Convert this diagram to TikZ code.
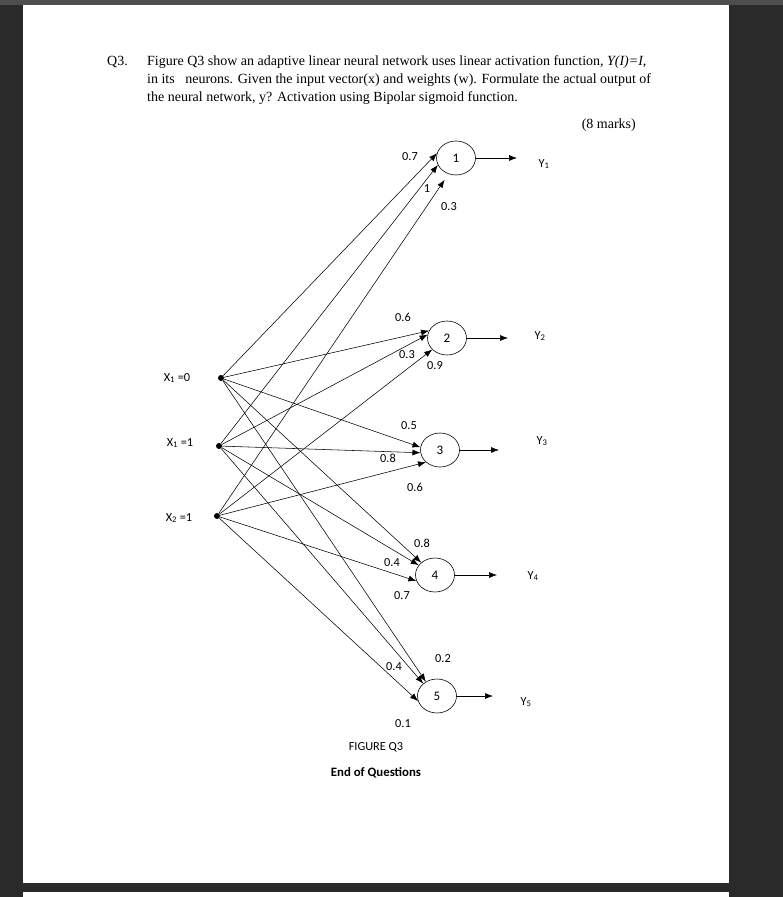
\documentclass[tikz,border=0pt]{standalone}
\usepackage{fontspec}
\setmainfont{Liberation Serif}
\newfontfamily\calibri{Carlito}
\usetikzlibrary{positioning,shapes.geometric,arrows.meta}
\definecolor{frame}{HTML}{2A2A2A}
\definecolor{topbar}{HTML}{4E4E4E}

\begin{document}
\begin{tikzpicture}[x=1pt, y=-1pt,
    neuron/.style = {draw, ellipse, minimum width=39pt, minimum height=34pt, inner sep=0pt, line width=0.6pt, font=\calibri\fontsize{13}{15}\selectfont},
    weight/.style = {inner sep=0pt, font=\calibri\fontsize{12.3}{14}\selectfont},
    wire/.style = {line width=0.55pt, -{Latex[length=8pt,width=6pt]}},
    dot/.style = {circle, fill, inner sep=0pt, minimum size=6pt},
    question/.style = {anchor=west, inner sep=0pt, font=\fontsize{14}{17}\selectfont}]
    \useasboundingbox (0,0) rectangle (783,897);
    % PAGE
    \fill[frame] (0,0) rectangle (783,897);
    \fill[topbar] (0,0) rectangle (783,5);
    \fill[white] (23,5) rectangle (729,883);
    \fill[white] (23,892) rectangle (729,897);
    % QUESTION
    \node[question] (qno) at (107,62) {Q3.};
    \node[question] (line1) at (147,62) {Figure Q3 show an adaptive linear neural network uses linear activation function, \textit{Y(I)=I},};
    \node[question] (line2) at (147,80) {in its\ \ \ neurons. Given the input vector(x) and weights (w). Formulate the actual output of};
    \node[question] (line3) at (147,98) {the neural network, y? Activation using Bipolar sigmoid function.};
    \node[question, anchor=east] (marks) at (636,125) {(8 marks)};
    % INPUTS
    \node[dot] (xa) at (221,378) {};
    \node[dot] (xb) at (219,446) {};
    \node[dot] (xc) at (217,516) {};
    \node[weight] (xalabel) at (177,378) {X\textsubscript{1} =0};
    \node[weight] (xblabel) at (180,443) {X\textsubscript{1} =1};
    \node[weight] (xclabel) at (179,518) {X\textsubscript{2} =1};
    % NEURONS
    \node[neuron] (n1) at (456,158) {1};
    \node[neuron] (n2) at (447,338) {2};
    \node[neuron] (n3) at (440,450) {3};
    \node[neuron] (n4) at (435,575) {4};
    \node[neuron] (n5) at (437,696) {5};
    % CONNECTIONS
    \draw[wire] (xa) -- (n1.166);
    \draw[wire] (xb) -- (n1.201);
    \draw[wire, shorten >=7pt] (xc) -- (n1.245);
    \draw[wire] (xa) -- (n2.158);
    \draw[wire] (xb) -- (n2.170);
    \draw[wire] (xc) -- (n2.218);
    \draw[wire] (xa) -- (n3.172);
    \draw[wire] (xb) -- (n3.188);
    \draw[wire] (xc) -- (n3.221);
    \draw[wire] (xa) -- (n4.138);
    \draw[wire] (xb) -- (n4.149);
    \draw[wire] (xc) -- (n4.198);
    \draw[wire] (xa) -- (n5.128);
    \draw[wire] (xb) -- (n5.138);
    \draw[wire] (xc) -- (n5.195);
    % WEIGHTS
    \node[weight] (w11) at (410,157) {0.7};
    \node[weight] (w21) at (427,189) {1};
    \node[weight] (w31) at (449,207) {0.3};
    \node[weight] (w12) at (403,317) {0.6};
    \node[weight] (w22) at (407,355) {0.3};
    \node[weight] (w32) at (435,366) {0.9};
    \node[weight] (w13) at (409,426) {0.5};
    \node[weight] (w23) at (388,458) {0.8};
    \node[weight] (w33) at (415,487) {0.6};
    \node[weight] (w14) at (422,543) {0.8};
    \node[weight] (w24) at (392,563) {0.4};
    \node[weight] (w34) at (402,596) {0.7};
    \node[weight] (w15) at (394,667) {0.4};
    \node[weight] (w25) at (443,659) {0.2};
    \node[weight] (w35) at (403,724) {0.1};
    % OUTPUTS
    \coordinate (o1) at (517,158);
    \coordinate (o2) at (508,338);
    \coordinate (o3) at (499,450);
    \coordinate (o4) at (497,575);
    \coordinate (o5) at (493,696);
    \foreach \i in {1,...,5}
        \draw[wire, line width=0.6pt] (n\i.east) -- (o\i);
    \node[weight] (y1) at (544,164) {Y\textsubscript{1}};
    \node[weight] (y2) at (540,336) {Y\textsubscript{2}};
    \node[weight] (y3) at (542,441) {Y\textsubscript{3}};
    \node[weight] (y4) at (533,576) {Y\textsubscript{4}};
    \node[weight] (y5) at (526,702) {Y\textsubscript{5}};
    % CAPTION
    \node[weight] (caption) at (376,747) {FIGURE Q3};
    \node[weight, font=\calibri\bfseries\fontsize{12.8}{15}\selectfont] (endq) at (376,773) {End of Questions};
\end{tikzpicture}
\end{document}
